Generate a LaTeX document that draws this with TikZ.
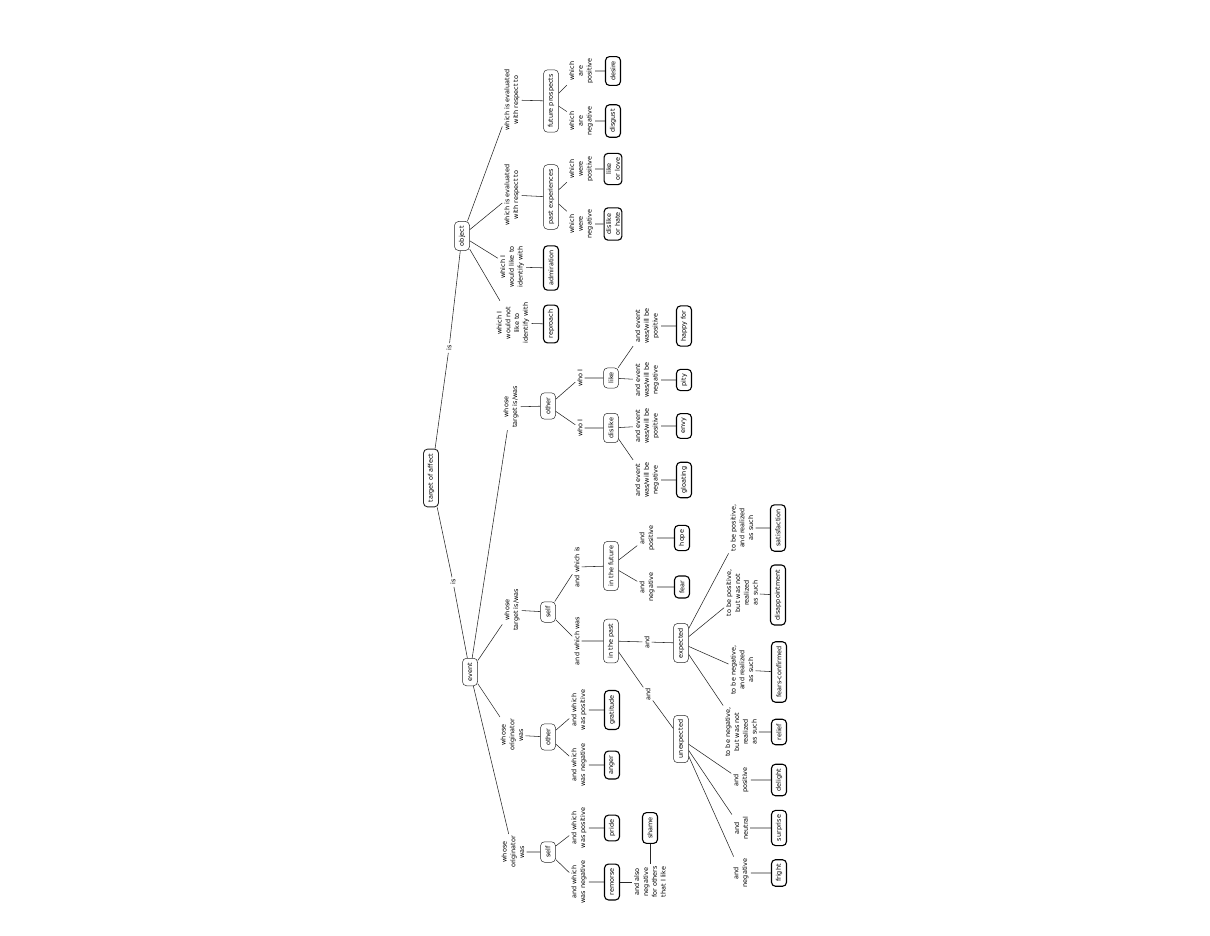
\documentclass[tikz,border=0pt]{standalone}
\usepackage{fontspec}
\setmainfont{DejaVu Sans}
\begin{document}
\begin{tikzpicture}[x=1pt,y=-1pt,
  every node/.style={rotate=90,font=\fontsize{6.5}{8.8}\selectfont,align=center},
  nbox/.style={draw=black!85,rounded corners=4pt,line width=.5pt,inner xsep=4.5pt,inner ysep=2pt,minimum height=15pt},
  leafbox/.style={nbox,draw=black,line width=1.1pt},
  lbl/.style={inner sep=2pt},
  link/.style={draw=black!85,line width=.55pt}]
\useasboundingbox (0,0) rectangle (1210,935);
\node[nbox,line width=.9pt] (root) at (431,478) {target of affect};
\node[lbl] (is1) at (449,348) {is};
\node[lbl] (is2) at (453,582) {is};
\node[nbox] (object) at (462,236) {object};
\node[nbox] (event) at (470,672) {event};
\node[lbl] (evfut) at (512,100) {which is evaluated\\with respect to};
\node[nbox] (future) at (551,101) {future prospects};
\node[lbl] (areneg) at (581,121) {which\\are\\negative};
\node[leafbox] (disgust) at (613,121) {disgust};
\node[lbl] (arepos) at (581,71) {which\\are\\positive};
\node[leafbox] (desire) at (613,71) {desire};
\node[lbl] (evpast) at (512,195) {which is evaluated\\with respect to};
\node[nbox] (past) at (551,197) {past experiences};
\node[lbl] (wereneg) at (581,224) {which\\were\\negative};
\node[leafbox] (dislikehate) at (613,224) {dislike\\or hate};
\node[lbl] (werepos) at (581,169) {which\\were\\positive};
\node[leafbox] (likelove) at (613,169) {like\\or love};
\node[lbl] (idlike) at (512,267) {which I\\would like to\\identify with};
\node[leafbox] (admiration) at (551,268) {admiration};
\node[lbl] (idnot) at (513,323) {which I\\would not\\like to\\identify with};
\node[leafbox] (reproach) at (551,324) {reproach};
\node[lbl] (tgother) at (511,407) {whose\\target is/was};
\node[nbox] (tother) at (548,406) {other};
\node[lbl] (whoa) at (580,378) {who I};
\node[nbox] (like) at (611,378) {like};
\node[lbl] (evnega) at (647,380) {and event\\was/will be\\negative};
\node[leafbox] (pity) at (684,380) {pity};
\node[lbl] (evposa) at (647,326) {and event\\was/will be\\positive};
\node[leafbox] (happyfor) at (684,326) {happy for};
\node[lbl] (whob) at (580,428) {who I};
\node[nbox] (dislike) at (611,428) {dislike};
\node[lbl] (evposb) at (647,426) {and event\\was/will be\\positive};
\node[leafbox] (envy) at (684,426) {envy};
\node[lbl] (evnegb) at (647,480) {and event\\was/will be\\negative};
\node[leafbox] (gloating) at (684,480) {gloating};
\node[lbl] (tgself) at (512,610) {whose\\target is/was};
\node[nbox] (tself) at (548,612) {self};
\node[lbl] (whichis) at (577,567) {and which is};
\node[nbox] (infuture) at (611,566) {in the future};
\node[lbl] (andposa) at (647,538) {and\\positive};
\node[leafbox] (hope) at (682,538) {hope};
\node[lbl] (andnega) at (647,587) {and\\negative};
\node[leafbox] (fear) at (682,587) {fear};
\node[lbl] (whichwas) at (577,641) {and which was};
\node[nbox] (inpast) at (611,641) {in the past};
\node[lbl] (anda) at (647,642) {and};
\node[nbox] (expected) at (681,643) {expected};
\node[lbl] (posreal) at (742,528) {to be positive,\\and realized\\as such};
\node[leafbox] (satisfaction) at (778,528) {satisfaction};
\node[lbl] (posnot) at (742,593) {to be positive,\\but was not\\realized\\as such};
\node[leafbox] (disappointment) at (778,595) {disappointment};
\node[lbl] (negreal) at (742,670) {to be negative,\\and realized\\as such};
\node[leafbox] (fearsconf) at (779,672) {fears-confirmed};
\node[lbl] (negnot) at (741,732) {to be negative,\\but was not\\realized\\as such};
\node[leafbox] (relief) at (779,732) {relief};
\node[lbl] (andb) at (648,694) {and};
\node[nbox] (unexpected) at (681,739) {unexpected};
\node[lbl] (andposb) at (741,780) {and\\positive};
\node[leafbox] (delight) at (779,780) {delight};
\node[lbl] (andneu) at (741,828) {and\\neutral};
\node[leafbox] (surprise) at (779,828) {surprise};
\node[lbl] (andnegb) at (741,873) {and\\negative};
\node[leafbox] (fright) at (779,873) {fright};
\node[lbl] (orgother) at (512,735) {whose\\originator\\was};
\node[nbox] (oother) at (548,737) {other};
\node[lbl] (wasposa) at (579,710) {and which\\was positive};
\node[leafbox] (gratitude) at (612,710) {gratitude};
\node[lbl] (wasnega) at (579,765) {and which\\was negative};
\node[leafbox] (anger) at (612,765) {anger};
\node[lbl] (orgself) at (513,852) {whose\\originator\\was};
\node[nbox] (oself) at (548,852) {self};
\node[lbl] (wasposb) at (579,828) {and which\\was positive};
\node[leafbox] (pride) at (612,828) {pride};
\node[lbl] (wasnegb) at (579,882) {and which\\was negative};
\node[leafbox] (remorse) at (612,882) {remorse};
\node[lbl] (alsoneg) at (650,882) {and also\\negative\\for others\\that I like};
\node[leafbox] (shame) at (650,828) {shame};
\draw[link] (root) -- (is1) -- (object);
\draw[link] (root) -- (is2) -- (event);
\draw[link] (object) -- (evfut) -- (future);
\draw[link] (future) -- (areneg) -- (disgust);
\draw[link] (future) -- (arepos) -- (desire);
\draw[link] (object) -- (evpast) -- (past);
\draw[link] (past) -- (wereneg) -- (dislikehate);
\draw[link] (past) -- (werepos) -- (likelove);
\draw[link] (object) -- (idlike) -- (admiration);
\draw[link] (object) -- (idnot) -- (reproach);
\draw[link] (event) -- (tgother) -- (tother);
\draw[link] (tother) -- (whoa) -- (like);
\draw[link] (like) -- (evnega) -- (pity);
\draw[link] (like) -- (evposa) -- (happyfor);
\draw[link] (tother) -- (whob) -- (dislike);
\draw[link] (dislike) -- (evposb) -- (envy);
\draw[link] (dislike) -- (evnegb) -- (gloating);
\draw[link] (event) -- (tgself) -- (tself);
\draw[link] (tself) -- (whichis) -- (infuture);
\draw[link] (infuture) -- (andposa) -- (hope);
\draw[link] (infuture) -- (andnega) -- (fear);
\draw[link] (tself) -- (whichwas) -- (inpast);
\draw[link] (inpast) -- (anda) -- (expected);
\draw[link] (expected) -- (posreal) -- (satisfaction);
\draw[link] (expected) -- (posnot) -- (disappointment);
\draw[link] (expected) -- (negreal) -- (fearsconf);
\draw[link] (expected) -- (negnot) -- (relief);
\draw[link] (inpast) -- (andb) -- (unexpected);
\draw[link] (unexpected) -- (andposb) -- (delight);
\draw[link] (unexpected) -- (andneu) -- (surprise);
\draw[link] (unexpected) -- (andnegb) -- (fright);
\draw[link] (event) -- (orgother) -- (oother);
\draw[link] (oother) -- (wasposa) -- (gratitude);
\draw[link] (oother) -- (wasnega) -- (anger);
\draw[link] (event) -- (orgself) -- (oself);
\draw[link] (oself) -- (wasposb) -- (pride);
\draw[link] (oself) -- (wasnegb) -- (remorse);
\draw[link] (remorse) -- (alsoneg.north);
\draw[link] (alsoneg.east) -- (shame.west);
\end{tikzpicture}
\end{document}
